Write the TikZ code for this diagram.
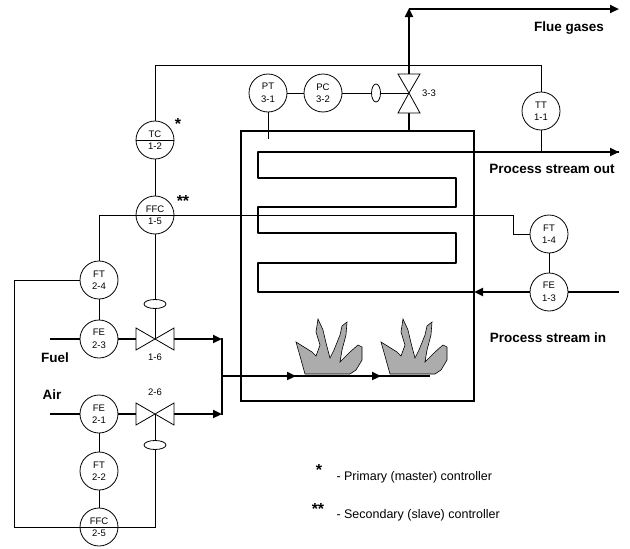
\documentclass[tikz,border=0pt]{standalone}
\usepackage{fontspec}
\setmainfont{Liberation Sans}
\usetikzlibrary{arrows.meta,shapes.geometric}
\begin{document}
\begin{tikzpicture}[x=1pt,y=-1pt,
  inst/.style={circle,draw,line width=0.8pt,minimum size=38pt,inner sep=0pt,align=center,font=\fontsize{9.5}{12.5}\selectfont},
  sig/.style={line width=0.8pt},
  pipe/.style={line width=2.6pt},
  arr/.style={-{Triangle[length=9pt,width=8pt]}},
  smallv/.style={ellipse,draw,line width=0.8pt,inner sep=0pt},
  lbl/.style={font=\fontsize{13.5}{15}\selectfont\bfseries},
  star/.style={font=\fontsize{16}{16}\selectfont\bfseries},
  vlbl/.style={font=\fontsize{9.5}{11}\selectfont},
  leg/.style={font=\fontsize{12.5}{14}\selectfont,anchor=west},
  flame/.style={fill=gray!65,draw=black,line width=0.6pt}]
\useasboundingbox (0,0) rectangle (630,549);
% furnace
\draw[line width=2.6pt] (241,131) rectangle (474,401);
% coil
\coordinate (pout) at (619,152);
\coordinate (pin0) at (619,292);
\coordinate (pin1) at (474,292);
\draw[pipe,line join=round] (pout) -- (258,152) -- (258,178) -- (456,178) -- (456,207) -- (258,207) -- (258,233) -- (456,233) -- (456,263) -- (258,263) -- (258,292) -- (pin1);
\draw[pipe,arr] (258,152) -- (pout);
% flue gases
\coordinate (fb) at (409,131);
\coordinate (ft) at (409,8);
\coordinate (fe) at (619,9);
\coordinate (v33) at (409,93);
\draw[pipe] (fb) -- (409,113);
\draw[pipe,arr] (409,74) -- (ft);
\draw[pipe,arr] (409,9) -- (fe);
\draw[sig,fill=white] (398,74) -- (420,74) -- (v33) -- cycle (398,113) -- (420,113) -- (v33) -- cycle;
\node[vlbl] (l33) at (429,93) {3-3};
% instruments
\node[inst] (pt31) at (268,93) {PT\\3-1};
\node[inst] (pc32) at (323,93) {PC\\3-2};
\node[smallv,minimum width=9pt,minimum height=18pt] (ev33) at (376,93) {};
\node[inst] (tt11) at (541,111) {TT\\1-1};
\node[inst] (tc12) at (155,140) {TC\\1-2};
\node[inst] (ffc15) at (155,215) {FFC\\1-5};
\node[inst] (ft14) at (549,234) {FT\\1-4};
\node[inst] (fe13) at (549,292) {FE\\1-3};
\node[inst] (ft24) at (99,280) {FT\\2-4};
\node[inst] (fe23) at (99,339) {FE\\2-3};
\node[inst] (fe21) at (99,414) {FE\\2-1};
\node[inst] (ft22) at (99,471) {FT\\2-2};
\node[inst,fill=white] (ffc25) at (99,527) {FFC\\2-5};
\foreach \n in {tc12,ffc15,ffc25} \draw[sig] (\n.west) -- (\n.east);
\node[lbl] at (569,28) {Flue gases};
\node[lbl] at (552,169) {Process stream out};
\node[lbl] at (548,338) {Process stream in};
\node[lbl] at (55,358) {Fuel};
\node[lbl] at (52,395) {Air};
\node[star] at (178,124) {*};
\node[star] at (183,201) {**};
% top signal loop
\draw[sig] (tc12.north) -- (155,65) -- (541,65) -- (tt11.north);
\draw[sig] (tt11.south) -- (541,152);
\draw[sig] (pt31.east) -- (pc32.west);
\draw[sig] (pc32.east) -- (ev33.west);
\draw[sig] (ev33.east) -- (v33);
\draw[sig] (pt31.south) -- (268,139);
\draw[sig] (tc12.south) -- (ffc15.north);
% FFC 1-5 line
\draw[sig] (ffc15.west) -- (99,215) -- (ft24.north);
\draw[sig] (ffc15.east) -- (513,215) -- (513,234) -- (ft14.west);
\draw[sig] (ft14.south) -- (fe13.north);
\draw[pipe] (pin0) -- (fe13.east);
\draw[pipe,arr] (fe13.west) -- (pin1);
% fuel & air
\coordinate (v16) at (155,339);
\coordinate (v26) at (155,414);
\node[smallv,minimum width=22pt,minimum height=9pt] (ev16) at (155,304) {};
\node[smallv,minimum width=22pt,minimum height=9pt] (ev26) at (155,445) {};
\draw[sig] (ffc15.south) -- (ev16.north);
\draw[sig] (ev16.south) -- (v16);
\draw[pipe] (50,339) -- (fe23.west);
\draw[pipe] (fe23.east) -- (136,339);
\draw[pipe,arr] (174,339) -- (222,339);
\draw[pipe] (50,414) -- (fe21.west);
\draw[pipe] (fe21.east) -- (136,414);
\draw[pipe,arr] (174,414) -- (222,414);
\draw[pipe] (222,338) -- (222,415);
\draw[sig,fill=white] (136,328) -- (136,350) -- (v16) -- cycle (174,328) -- (174,350) -- (v16) -- cycle;
\draw[sig,fill=white] (136,403) -- (136,425) -- (v26) -- cycle (174,403) -- (174,425) -- (v26) -- cycle;
\node[vlbl] (l16) at (155,357) {1-6};
\node[vlbl] (l26) at (155,392) {2-6};
\draw[sig] (ft24.south) -- (fe23.north);
\draw[sig] (fe21.south) -- (ft22.north);
\draw[sig] (ft22.south) -- (ffc25.north);
\draw[sig] (v26) -- (ev26.north);
\draw[sig] (ft24.west) -- (14,280) -- (14,527) -- (ffc25.west);
\draw[sig] (ffc25.east) -- (155,527) -- (ev26.south);
% burner
\draw[pipe] (222,376) -- (430,376);
\draw[pipe,arr] (222,376) -- (296,376);
\draw[pipe,arr] (296,376) -- (381,376);
\foreach \s in {0,85}{
\draw[flame,xshift=\s] (305,374) -- (300,356) -- (296,342) -- (304,347) -- (312,352) -- (316,356) -- (320,345) -- (316,332) -- (318,319) -- (323,330) -- (326,343) -- (330,358) -- (334,350) -- (340,335) -- (342,326) -- (347,322) -- (346,335) -- (342,350) -- (340,362) -- (350,352) -- (358,345) -- (362,347) -- (362,360) -- (356,370) -- (350,374) -- cycle;}
% legend
\node[star] at (319,470) {*};
\node[leg] at (333,477) {- Primary (master) controller};
\node[star] at (318,509) {**};
\node[leg] at (333,515) {- Secondary (slave) controller};
\end{tikzpicture}
\end{document}
